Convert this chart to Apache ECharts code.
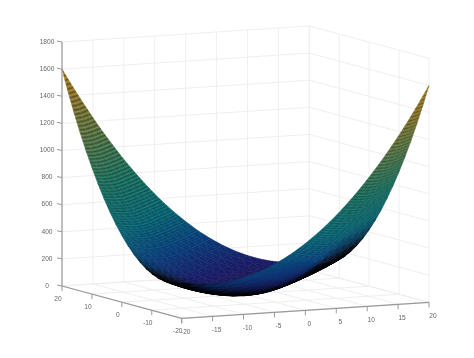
<!DOCTYPE html>
<html>
<head>
<meta charset="utf-8">
<script src="https://cdn.jsdelivr.net/npm/echarts@6/dist/echarts.min.js"></script>
<style>html,body{margin:0;background:#fff}#main{width:474px;height:358px}</style>
</head>
<body>
<div id="main"></div>
<script>
// surface grid
const xValues = [-20,-18,-16,-14,-12,-10,-8,-6,-4,-2,0,2,4,6,8,10,12,14,16,18,20];
const yValues = [-20,-18,-16,-14,-12,-10,-8,-6,-4,-2,0,2,4,6,8,10,12,14,16,18,20];
// one row per y value, one column per x value
const zRows = [
[260,245,238,240,250,269,296,332,377,430,492,563,642,730,827,933,1047,1171,1304,1447,1600],
[245,222,208,202,205,216,236,265,302,348,403,466,538,619,709,807,915,1032,1159,1296,1444],
[238,208,186,173,168,172,185,206,236,275,322,378,443,517,599,691,792,903,1024,1156,1297],
[240,202,173,152,140,137,142,156,179,210,250,299,357,423,499,584,679,784,900,1025,1157],
[250,205,168,140,121,110,108,115,130,154,187,229,279,339,408,487,576,676,785,901,1027],
[269,216,172,137,110,92,83,82,90,107,133,167,211,264,327,400,484,577,677,787,904],
[296,236,185,142,108,83,66,58,59,69,87,115,152,199,256,324,401,485,579,680,790],
[332,265,206,156,115,82,58,43,37,39,51,72,103,144,196,257,325,403,488,582,684],
[377,302,236,179,130,90,59,37,23,19,24,39,64,100,145,197,259,328,406,492,586],
[430,348,275,210,154,107,69,39,19,8,7,16,36,65,101,147,200,262,332,410,497],
[492,403,322,250,187,133,87,51,24,7,0,4,17,37,67,104,150,204,266,337,416],
[563,466,378,299,229,167,115,72,39,16,4,1,5,19,40,70,108,154,209,272,343],
[642,538,443,357,279,211,152,103,64,36,17,5,3,8,22,44,74,113,160,215,279],
[730,619,517,423,339,264,199,144,100,65,37,19,8,6,12,26,49,80,119,167,223],
[827,709,599,499,408,327,256,196,145,101,67,40,22,12,10,17,32,55,87,127,175],
[933,807,691,584,487,400,324,257,197,147,104,70,44,26,17,16,23,39,63,95,136],
[1047,915,792,679,576,484,401,325,259,200,150,108,74,49,32,23,23,31,47,72,105],
[1171,1032,903,784,676,577,485,403,328,262,204,154,113,80,55,39,31,31,40,57,82],
[1304,1159,1024,900,785,677,579,488,406,332,266,209,160,119,87,63,47,40,41,50,68],
[1447,1296,1156,1025,901,787,680,582,492,410,337,272,215,167,127,95,72,57,50,52,62],
[1600,1444,1297,1157,1027,904,790,684,586,497,416,343,279,223,175,136,105,82,68,62,64]
];
const xTicks = [-20,-15,-10,-5,0,5,10,15,20];
const yTicks = [-20,-10,0,10,20];
const zTicks = [0,200,400,600,800,1000,1200,1400,1600,1800];

// colormap, darkened later by the mesh lines
const colorZ = [0,100,300,500,800,1100,1400,1600];
const colorRgb = [[53,42,135],[40,45,170],[15,105,200],[15,160,185],[45,175,150],[130,180,110],[215,180,70],[245,195,60]];

// view: where the floor corners land on the 474x358 plane
const view = { ox: 181.7, oy: 318.3, xDx: 6.1825, xDy: -0.4, yDx: -2.9925, yDy: -0.8075, zDy: -0.13556 };
const stripeUnits = 0.4; // mesh spacing of the original

function project(x, y, z) {
  return [
    view.ox + (x + 20) * view.xDx + (y + 20) * view.yDx,
    view.oy + (x + 20) * view.xDy + (y + 20) * view.yDy + z * view.zDy
  ];
}

function zColor(z) {
  let i = 0;
  while (i < colorZ.length - 2 && z > colorZ[i + 1]) i++;
  const t = Math.min(1, Math.max(0, (z - colorZ[i]) / (colorZ[i + 1] - colorZ[i])));
  return colorRgb[i].map((c, k) => c + (colorRgb[i + 1][k] - c) * t);
}

function rgb(c, dark) {
  const f = 1 - dark;
  return 'rgb(' + c.map(v => Math.round(v * f)).join(',') + ')';
}

// two triangles per cell, split along the line where z barely changes
const triangles = [];
for (let j = 0; j < yValues.length - 1; j++) {
  for (let i = 0; i < xValues.length - 1; i++) {
    const p = [xValues[i], yValues[j], zRows[j][i]];
    const q = [xValues[i + 1], yValues[j + 1], zRows[j + 1][i + 1]];
    const r = [xValues[i + 1], yValues[j], zRows[j][i + 1]];
    const l = [xValues[i], yValues[j + 1], zRows[j + 1][i]];
    triangles.push([p, q, r, l]);
    triangles.push([p, q, l, r]);
  }
}
function depth(t) {
  const m = v => (t[0][v] + t[1][v] + t[2][v]) / 3;
  return 2.99 * m(0) + 6.18 * m(1) - 0.018 * m(2);
}
triangles.sort((a, b) => depth(b) - depth(a));

// distance of a point from the line through P with direction (ux, uy)
function lineDistance(P, ux, uy, R) {
  const k = (R[0] - P[0]) * ux + (R[1] - P[1]) * uy;
  return Math.hypot(R[0] - P[0] - ux * k, R[1] - P[1] - uy * k);
}

function stripedFill(t, P, Q, R, other) {
  const ex = Q[0] - P[0], ey = Q[1] - P[1];
  const len = Math.hypot(ex, ey) || 1;
  const ux = ex / len, uy = ey / len;
  const k = (R[0] - P[0]) * ux + (R[1] - P[1]) * uy;
  const fx = P[0] + ux * k, fy = P[1] + uy * k; // foot of R on the line PQ
  // both halves of a cell share one row spacing, keeps the dark part even
  const h = (lineDistance(P, ux, uy, R) + lineDistance(P, ux, uy, other)) / 2 || 0.01;
  const zLine = (t[0][2] + t[1][2]) / 2, zEnd = t[2][2];
  const n = Math.round(Math.abs(t[1][0] - t[0][0]) / stripeUnits);
  const sa = Math.sqrt(Math.max(zLine, 0)), sb = Math.sqrt(Math.max(zEnd, 0));
  const a = 2 * sa / (sa + sb || 1), b = 2 * sb / (sa + sb || 1);
  const period = h / n;
  const stops = [];
  const push = (off, level) => {
    const z = zLine + (zEnd - zLine) * off;
    const pt = Math.max(0.05, period * (0.5 + 0.5 * (a + (b - a) * off)));
    const mean = Math.min(0.97, 0.4 * Math.max(1, 1.5 / pt));
    // stripes only show where the mesh rows are far enough apart
    const w = Math.min(1, Math.max(0, (pt - 1.5) / 2.5));
    stops.push({ offset: off, color: rgb(zColor(z), mean + level * w * 0.4 * mean) });
  };
  for (let s = 0; s < n; s++) {
    push(s / n, -1);
    push((s + 0.5) / n, 1);
  }
  push(1, -1);
  return new echarts.graphic.LinearGradient(fx, fy, R[0], R[1], stops, true);
}

// box lines behind the surface
const gridLines = [];
xTicks.forEach(x => {
  gridLines.push([x, 20, 0, x, 20, 1800]);
  gridLines.push([x, -20, 0, x, 20, 0]);
});
yTicks.forEach(y => {
  gridLines.push([20, y, 0, 20, y, 1800]);
  gridLines.push([-20, y, 0, 20, y, 0]);
});
zTicks.forEach(z => {
  gridLines.push([-20, 20, z, 20, 20, z]);
  gridLines.push([20, 20, z, 20, -20, z]);
});

const axisLines = [
  [-20, -20, 0, 20, -20, 0],
  [-20, -20, 0, -20, 20, 0],
  [-20, 20, 0, -20, 20, 1800]
];

// tick marks: position plus pixel offset
const tickMarks = [];
const labels = [];
xTicks.forEach(x => {
  tickMarks.push([x, -20, 0, 0, 5]);
  labels.push([x, -20, 0, 4, 13.5, String(x)]);
});
yTicks.forEach(y => {
  tickMarks.push([-20, y, 0, 0, 5]);
  labels.push([-20, y, 0, -4, 13.3, String(y)]);
});
zTicks.forEach(z => {
  tickMarks.push([-20, 20, z, -5, -1]);
  labels.push([-20, 20, z, -15, 0, String(z)]);
});

function lineSeries(list, color, width) {
  return {
    type: 'custom', silent: true, clip: false, data: list,
    renderItem: function (params, api) {
      const d = list[params.dataIndex];
      const a = api.coord(project(d[0], d[1], d[2]));
      const b = api.coord(project(d[3], d[4], d[5]));
      return { type: 'line', shape: { x1: a[0], y1: a[1], x2: b[0], y2: b[1] }, style: { stroke: color, lineWidth: width } };
    }
  };
}

const option = {
  animation: false,
  backgroundColor: '#fff',
  xAxis: { type: 'value', min: 0, max: 474, show: false },
  yAxis: { type: 'value', min: 0, max: 358, inverse: true, show: false },
  grid: { left: 0, right: 0, top: 0, bottom: 0 },
  series: [
    lineSeries(gridLines, '#efefef', 1),
    {
      type: 'custom', silent: true, clip: false,
      data: triangles.map((t, i) => [i]),
      renderItem: function (params, api) {
        const t = triangles[params.dataIndex];
        const pts = t.map(v => api.coord(project(v[0], v[1], v[2])));
        const fill = stripedFill(t, pts[0], pts[1], pts[2], pts[3]);
        return { type: 'polygon', shape: { points: pts.slice(0, 3) }, style: { fill: fill, stroke: fill, lineWidth: 0.6 } };
      }
    },
    lineSeries(axisLines, '#999999', 1.2),
    {
      type: 'custom', silent: true, clip: false, data: tickMarks,
      renderItem: function (params, api) {
        const d = tickMarks[params.dataIndex];
        const a = api.coord(project(d[0], d[1], d[2]));
        return { type: 'line', shape: { x1: a[0], y1: a[1], x2: a[0] + d[3], y2: a[1] + d[4] }, style: { stroke: '#999999', lineWidth: 1 } };
      }
    },
    {
      type: 'custom', silent: true, clip: false, data: labels.map((l, i) => [i]),
      renderItem: function (params, api) {
        const d = labels[params.dataIndex];
        const a = api.coord(project(d[0], d[1], d[2]));
        return {
          type: 'text',
          style: {
            text: d[5], x: a[0] + d[3], y: a[1] + d[4], fill: '#666666',
            font: '6.6px "Liberation Sans", Arial, sans-serif',
            textAlign: 'center', textVerticalAlign: 'middle'
          }
        };
      }
    }
  ]
};

const chart = echarts.init(document.getElementById('main'));
chart.setOption(option);
</script>
</body>
</html>
